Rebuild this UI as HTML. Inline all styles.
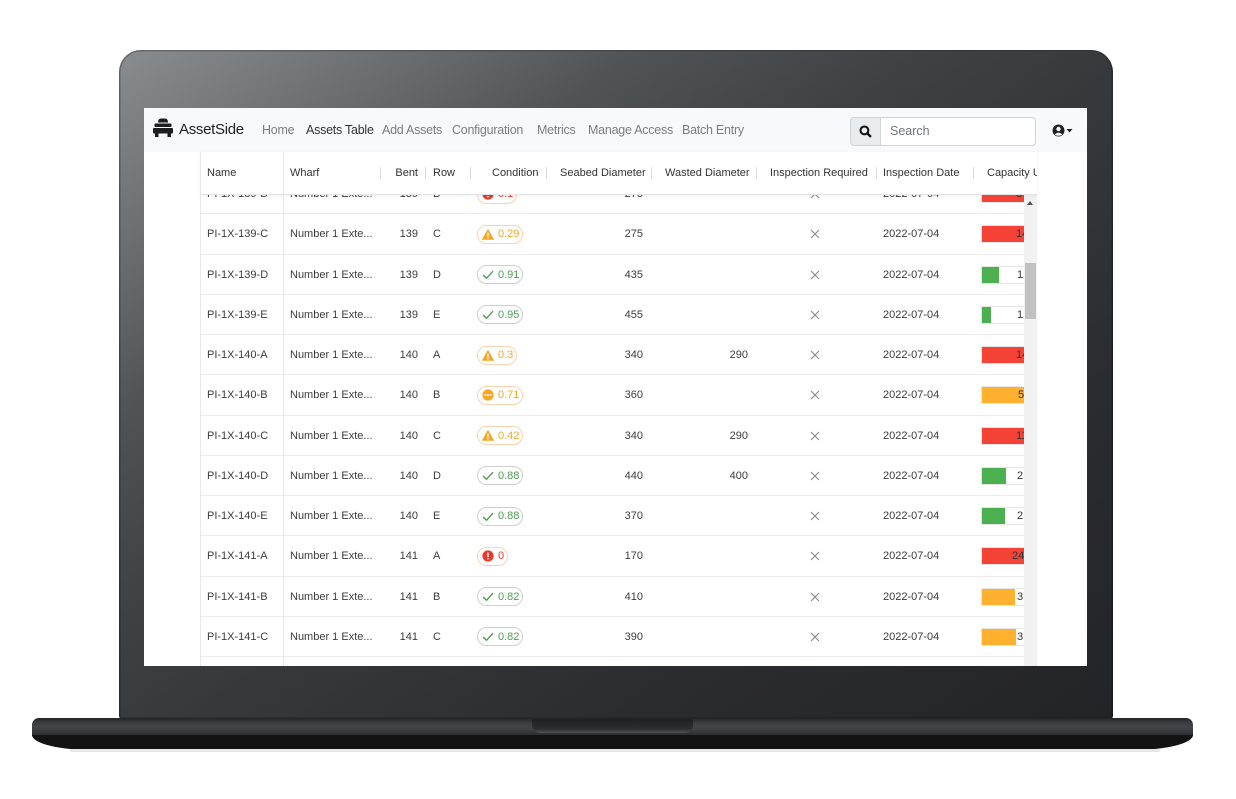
<!DOCTYPE html>
<html><head><meta charset="utf-8">
<style>
*{box-sizing:border-box;margin:0;padding:0}
html,body{width:1236px;height:799px;background:#fff;overflow:hidden;position:relative;font-family:"Liberation Sans",Arial,sans-serif}
.abs{position:absolute}
#lid{position:absolute;left:119px;top:50px;width:994px;height:669px;border-radius:22px 22px 3px 3px;
 background:linear-gradient(145deg,#8a8d8f 0%,#626567 19%,#505356 27%,#3f4143 41%,#36383a 53%,#2b2c2e 75%,#232426 100%);
 box-shadow:inset 0 0 0 1.5px rgba(0,0,0,.28),inset 0 2px 1px rgba(255,255,255,.06)}
#base1{position:absolute;left:32px;top:718px;width:1161px;height:18px;border-radius:7px 7px 0 0;
 background:linear-gradient(180deg,#222325 0%,#3b3c3e 25%,#444547 50%,#343537 80%,#2a2b2c 100%)}
#base2{position:absolute;left:32px;top:735px;width:1161px;height:15px;border-radius:0 0 60px 60px/0 0 15px 15px;background:#131313}
#shadow{position:absolute;left:70px;top:749px;width:1090px;height:3px;background:#e6e6e6;border-radius:2px}
#notch{position:absolute;left:532px;top:719px;width:161px;height:14px;border-radius:0 0 8px 8px;
 background:linear-gradient(180deg,#1f2022 0%,#2c2d2f 70%,#505254 100%)}
#screen{position:absolute;left:144px;top:108px;width:943px;height:558px;background:#fff;overflow:hidden}
#nav{position:absolute;left:0;top:0;width:943px;height:44px;background:#f8f9fa}
.ni{position:absolute;top:0;line-height:44px;font-size:12.5px;letter-spacing:-0.25px;color:#7d7d7d;white-space:nowrap}
#hdr{position:absolute;left:56px;top:44px;width:837px;height:43px;background:#fff;z-index:3;overflow:hidden;border-bottom:1px solid #e4e4e4;box-shadow:0 1px 3px rgba(0,0,0,.06)}
.hl{position:absolute;top:0;line-height:42px;font-size:11px;color:#333;white-space:nowrap}
.sep{position:absolute;top:15px;width:1px;height:12px;background:#d8d8d8}
#rows{position:absolute;left:56px;top:66px;width:824px;height:492px;overflow:hidden}
.r{position:absolute;left:0;width:824px;height:40.25px;border-bottom:1px solid #ececec}
.c{position:absolute;top:0;line-height:40px;font-size:11px;color:#3c3c3c;white-space:nowrap}
.rt{text-align:right}
.b{position:absolute;left:277px;top:10.5px;height:19px;border-radius:10px;border:1px solid #f8d3ae;display:flex;align-items:center;font-size:11px;color:#f5a623}
.b svg{margin-left:4px;margin-right:4px;flex:none}
.b.ok{border-color:#cfcfcf;color:#4e9d50}
.b.er{color:#e8392f}
.x{position:absolute;left:610px;top:15px}
.bar{position:absolute;left:781px;top:11px;width:70px;height:18px;border:1px solid #e6e6e6;background:#fff}
.f{position:absolute;left:0;top:0;height:16px}
.red{background:#f44336}.grn{background:#4caf50}.org{background:#ffb02e}
.bt{position:absolute;top:0;line-height:40px;font-size:11px;color:#333}
.vl{position:absolute;top:44px;width:1px;height:514px;background:#e8e8e8;z-index:4}
</style></head><body>
<div id="lid"></div>
<div id="base1"></div>
<div id="base2"></div>
<div id="shadow"></div>
<div id="notch"></div>

<div id="screen">
 <div id="nav">
  <svg class="abs" style="left:9px;top:10px" width="20" height="19" viewBox="0 0 20 19">
   <path d="M5 4.5 Q5 0.5 8 0.5 H12 Q15 0.5 15 4.5 Z" fill="#1e1e1e"/>
   <rect x="1.5" y="5.5" width="17" height="3.5" rx="1" fill="#1e1e1e"/>
   <rect x="0" y="10" width="20" height="5.5" rx="1" fill="#1e1e1e"/>
   <rect x="2" y="15" width="3.5" height="4" fill="#1e1e1e"/>
   <rect x="14.5" y="15" width="3.5" height="4" fill="#1e1e1e"/>
  </svg>
  <div class="ni" style="left:35px;font-size:15px;letter-spacing:-0.3px;color:#222">AssetSide</div>
  <div class="ni" style="left:118px">Home</div>
  <div class="ni" style="left:162px;color:#333">Assets Table</div>
  <div class="ni" style="left:238px">Add Assets</div>
  <div class="ni" style="left:308px">Configuration</div>
  <div class="ni" style="left:393px">Metrics</div>
  <div class="ni" style="left:444px">Manage Access</div>
  <div class="ni" style="left:538px">Batch Entry</div>
  <div class="abs" style="left:706px;top:9px;width:31px;height:29px;background:#e9ecef;border:1px solid #ced4da;border-radius:4px 0 0 4px">
   <svg class="abs" style="left:8px;top:7px" width="13" height="13" viewBox="0 0 12 12"><circle cx="5" cy="5" r="3.6" stroke="#111" stroke-width="1.9" fill="none"/><line x1="7.6" y1="7.6" x2="11" y2="11" stroke="#111" stroke-width="2.2"/></svg>
  </div>
  <div class="abs" style="left:737px;top:9px;width:155px;height:29px;background:#fff;border:1px solid #ced4da;border-left:none;border-radius:0 4px 4px 0;font-size:12.5px;color:#6c757d;line-height:27px;padding-left:9px">Search</div>
  <svg class="abs" style="left:908px;top:16px" width="22" height="13" viewBox="0 0 22 13">
   <circle cx="6.5" cy="6.5" r="6" fill="#222"/><circle cx="6.5" cy="5" r="2.2" fill="#f8f9fa"/><path d="M2.6 10.5 Q6.5 6.8 10.4 10.5 Q6.5 13 2.6 10.5Z" fill="#f8f9fa"/>
   <path d="M14.5 5 H20.5 L17.5 8.5 Z" fill="#222"/>
  </svg>
 </div>

 <div class="vl" style="left:56px"></div>
 <div class="vl" style="left:139px"></div>

 <div id="hdr">
  <div class="hl" style="left:7px">Name</div>
  <div class="hl" style="left:90px">Wharf</div>
  <div class="hl" style="left:190px;width:28px;text-align:right">Bent</div>
  <div class="hl" style="left:233px">Row</div>
  <div class="hl" style="left:292px">Condition</div>
  <div class="hl" style="left:360px">Seabed Diameter</div>
  <div class="hl" style="left:465px">Wasted Diameter</div>
  <div class="hl" style="left:570px">Inspection Required</div>
  <div class="hl" style="left:683px">Inspection Date</div>
  <div class="hl" style="left:787px">Capacity Utilisation</div>
  <div class="sep" style="left:180px"></div>
  <div class="sep" style="left:225px"></div>
  <div class="sep" style="left:270px"></div>
  <div class="sep" style="left:346px"></div>
  <div class="sep" style="left:451px"></div>
  <div class="sep" style="left:556px"></div>
  <div class="sep" style="left:676px"></div>
  <div class="sep" style="left:773px"></div>
 </div>

 <div id="rows">
  <div class="r" style="top:0px">
   <div class="c" style="left:7px">PI-1X-139-B</div><div class="c" style="left:90px">Number 1 Exte...</div>
   <div class="c rt" style="left:190px;width:28px">139</div><div class="c" style="left:233px">B</div>
   <div class="b er" style="width:40px"><svg width="12" height="12" viewBox="0 0 12 12"><circle cx="6" cy="6" r="5.6" fill="#e8392f"/><rect x="5.3" y="2.6" width="1.4" height="4.4" fill="#fff"/><rect x="5.3" y="8" width="1.4" height="1.4" fill="#fff"/></svg>0.1</div>
   <div class="c rt" style="left:400px;width:43px">275</div>
   <svg class="x" width="10" height="10" viewBox="0 0 10 10"><path d="M1 1L9 9M9 1L1 9" stroke="#888" stroke-width="1.1"/></svg>
   <div class="c" style="left:683px">2022-07-04</div>
   <div class="bar"><div class="f red" style="width:70px"></div></div><div class="bt" style="left:816px">8</div>
  </div>
  <div class="r" style="top:40.25px">
   <div class="c" style="left:7px">PI-1X-139-C</div><div class="c" style="left:90px">Number 1 Exte...</div>
   <div class="c rt" style="left:190px;width:28px">139</div><div class="c" style="left:233px">C</div>
   <div class="b" style="width:46px"><svg width="12" height="11" viewBox="0 0 12 11"><path d="M6 0.6L11.6 10.4H0.4Z" fill="#f5a623" stroke="#f5a623" stroke-width="0.8" stroke-linejoin="round"/><rect x="5.35" y="3.6" width="1.3" height="3.8" fill="#fff"/><rect x="5.35" y="8.1" width="1.3" height="1.3" fill="#fff"/></svg>0.29</div>
   <div class="c rt" style="left:400px;width:43px">275</div>
   <svg class="x" width="10" height="10" viewBox="0 0 10 10"><path d="M1 1L9 9M9 1L1 9" stroke="#888" stroke-width="1.1"/></svg>
   <div class="c" style="left:683px">2022-07-04</div>
   <div class="bar"><div class="f red" style="width:70px"></div></div><div class="bt" style="left:816px">14</div>
  </div>
  <div class="r" style="top:80.5px">
   <div class="c" style="left:7px">PI-1X-139-D</div><div class="c" style="left:90px">Number 1 Exte...</div>
   <div class="c rt" style="left:190px;width:28px">139</div><div class="c" style="left:233px">D</div>
   <div class="b ok" style="width:46px"><svg width="12" height="11" viewBox="0 0 12 11"><path d="M1 6L4.5 9.3L11 2.2" stroke="#4e9d50" stroke-width="1.4" fill="none"/></svg>0.91</div>
   <div class="c rt" style="left:400px;width:43px">435</div>
   <svg class="x" width="10" height="10" viewBox="0 0 10 10"><path d="M1 1L9 9M9 1L1 9" stroke="#888" stroke-width="1.1"/></svg>
   <div class="c" style="left:683px">2022-07-04</div>
   <div class="bar"><div class="f grn" style="width:17px"></div></div><div class="bt" style="left:817px">1</div>
  </div>
  <div class="r" style="top:120.75px">
   <div class="c" style="left:7px">PI-1X-139-E</div><div class="c" style="left:90px">Number 1 Exte...</div>
   <div class="c rt" style="left:190px;width:28px">139</div><div class="c" style="left:233px">E</div>
   <div class="b ok" style="width:46px"><svg width="12" height="11" viewBox="0 0 12 11"><path d="M1 6L4.5 9.3L11 2.2" stroke="#4e9d50" stroke-width="1.4" fill="none"/></svg>0.95</div>
   <div class="c rt" style="left:400px;width:43px">455</div>
   <svg class="x" width="10" height="10" viewBox="0 0 10 10"><path d="M1 1L9 9M9 1L1 9" stroke="#888" stroke-width="1.1"/></svg>
   <div class="c" style="left:683px">2022-07-04</div>
   <div class="bar"><div class="f grn" style="width:9px"></div></div><div class="bt" style="left:817px">1</div>
  </div>
  <div class="r" style="top:161px">
   <div class="c" style="left:7px">PI-1X-140-A</div><div class="c" style="left:90px">Number 1 Exte...</div>
   <div class="c rt" style="left:190px;width:28px">140</div><div class="c" style="left:233px">A</div>
   <div class="b" style="width:40px"><svg width="12" height="11" viewBox="0 0 12 11"><path d="M6 0.6L11.6 10.4H0.4Z" fill="#f5a623" stroke="#f5a623" stroke-width="0.8" stroke-linejoin="round"/><rect x="5.35" y="3.6" width="1.3" height="3.8" fill="#fff"/><rect x="5.35" y="8.1" width="1.3" height="1.3" fill="#fff"/></svg>0.3</div>
   <div class="c rt" style="left:400px;width:43px">340</div>
   <div class="c rt" style="left:505px;width:43px">290</div>
   <svg class="x" width="10" height="10" viewBox="0 0 10 10"><path d="M1 1L9 9M9 1L1 9" stroke="#888" stroke-width="1.1"/></svg>
   <div class="c" style="left:683px">2022-07-04</div>
   <div class="bar"><div class="f red" style="width:70px"></div></div><div class="bt" style="left:816px">14</div>
  </div>
  <div class="r" style="top:201.25px">
   <div class="c" style="left:7px">PI-1X-140-B</div><div class="c" style="left:90px">Number 1 Exte...</div>
   <div class="c rt" style="left:190px;width:28px">140</div><div class="c" style="left:233px">B</div>
   <div class="b" style="width:46px"><svg width="12" height="12" viewBox="0 0 12 12"><circle cx="6" cy="6" r="5.6" fill="#f5a623"/><circle cx="3.4" cy="6" r="1" fill="#fff"/><circle cx="6" cy="6" r="1" fill="#fff"/><circle cx="8.6" cy="6" r="1" fill="#fff"/></svg>0.71</div>
   <div class="c rt" style="left:400px;width:43px">360</div>
   <svg class="x" width="10" height="10" viewBox="0 0 10 10"><path d="M1 1L9 9M9 1L1 9" stroke="#888" stroke-width="1.1"/></svg>
   <div class="c" style="left:683px">2022-07-04</div>
   <div class="bar"><div class="f org" style="width:70px"></div></div><div class="bt" style="left:818px">5</div>
  </div>
  <div class="r" style="top:241.5px">
   <div class="c" style="left:7px">PI-1X-140-C</div><div class="c" style="left:90px">Number 1 Exte...</div>
   <div class="c rt" style="left:190px;width:28px">140</div><div class="c" style="left:233px">C</div>
   <div class="b" style="width:46px"><svg width="12" height="11" viewBox="0 0 12 11"><path d="M6 0.6L11.6 10.4H0.4Z" fill="#f5a623" stroke="#f5a623" stroke-width="0.8" stroke-linejoin="round"/><rect x="5.35" y="3.6" width="1.3" height="3.8" fill="#fff"/><rect x="5.35" y="8.1" width="1.3" height="1.3" fill="#fff"/></svg>0.42</div>
   <div class="c rt" style="left:400px;width:43px">340</div>
   <div class="c rt" style="left:505px;width:43px">290</div>
   <svg class="x" width="10" height="10" viewBox="0 0 10 10"><path d="M1 1L9 9M9 1L1 9" stroke="#888" stroke-width="1.1"/></svg>
   <div class="c" style="left:683px">2022-07-04</div>
   <div class="bar"><div class="f red" style="width:70px"></div></div><div class="bt" style="left:816px">11</div>
  </div>
  <div class="r" style="top:281.75px">
   <div class="c" style="left:7px">PI-1X-140-D</div><div class="c" style="left:90px">Number 1 Exte...</div>
   <div class="c rt" style="left:190px;width:28px">140</div><div class="c" style="left:233px">D</div>
   <div class="b ok" style="width:46px"><svg width="12" height="11" viewBox="0 0 12 11"><path d="M1 6L4.5 9.3L11 2.2" stroke="#4e9d50" stroke-width="1.4" fill="none"/></svg>0.88</div>
   <div class="c rt" style="left:400px;width:43px">440</div>
   <div class="c rt" style="left:505px;width:43px">400</div>
   <svg class="x" width="10" height="10" viewBox="0 0 10 10"><path d="M1 1L9 9M9 1L1 9" stroke="#888" stroke-width="1.1"/></svg>
   <div class="c" style="left:683px">2022-07-04</div>
   <div class="bar"><div class="f grn" style="width:24px"></div></div><div class="bt" style="left:817px">2</div>
  </div>
  <div class="r" style="top:322px">
   <div class="c" style="left:7px">PI-1X-140-E</div><div class="c" style="left:90px">Number 1 Exte...</div>
   <div class="c rt" style="left:190px;width:28px">140</div><div class="c" style="left:233px">E</div>
   <div class="b ok" style="width:46px"><svg width="12" height="11" viewBox="0 0 12 11"><path d="M1 6L4.5 9.3L11 2.2" stroke="#4e9d50" stroke-width="1.4" fill="none"/></svg>0.88</div>
   <div class="c rt" style="left:400px;width:43px">370</div>
   <svg class="x" width="10" height="10" viewBox="0 0 10 10"><path d="M1 1L9 9M9 1L1 9" stroke="#888" stroke-width="1.1"/></svg>
   <div class="c" style="left:683px">2022-07-04</div>
   <div class="bar"><div class="f grn" style="width:23px"></div></div><div class="bt" style="left:817px">2</div>
  </div>
  <div class="r" style="top:362.25px">
   <div class="c" style="left:7px">PI-1X-141-A</div><div class="c" style="left:90px">Number 1 Exte...</div>
   <div class="c rt" style="left:190px;width:28px">141</div><div class="c" style="left:233px">A</div>
   <div class="b er" style="width:31px"><svg width="12" height="12" viewBox="0 0 12 12"><circle cx="6" cy="6" r="5.6" fill="#e8392f"/><rect x="5.3" y="2.6" width="1.4" height="4.4" fill="#fff"/><rect x="5.3" y="8" width="1.4" height="1.4" fill="#fff"/></svg>0</div>
   <div class="c rt" style="left:400px;width:43px">170</div>
   <svg class="x" width="10" height="10" viewBox="0 0 10 10"><path d="M1 1L9 9M9 1L1 9" stroke="#888" stroke-width="1.1"/></svg>
   <div class="c" style="left:683px">2022-07-04</div>
   <div class="bar"><div class="f red" style="width:70px"></div></div><div class="bt" style="left:812px">24</div>
  </div>
  <div class="r" style="top:402.5px">
   <div class="c" style="left:7px">PI-1X-141-B</div><div class="c" style="left:90px">Number 1 Exte...</div>
   <div class="c rt" style="left:190px;width:28px">141</div><div class="c" style="left:233px">B</div>
   <div class="b ok" style="width:46px"><svg width="12" height="11" viewBox="0 0 12 11"><path d="M1 6L4.5 9.3L11 2.2" stroke="#4e9d50" stroke-width="1.4" fill="none"/></svg>0.82</div>
   <div class="c rt" style="left:400px;width:43px">410</div>
   <svg class="x" width="10" height="10" viewBox="0 0 10 10"><path d="M1 1L9 9M9 1L1 9" stroke="#888" stroke-width="1.1"/></svg>
   <div class="c" style="left:683px">2022-07-04</div>
   <div class="bar"><div class="f org" style="width:33px"></div></div><div class="bt" style="left:817px">3</div>
  </div>
  <div class="r" style="top:442.75px">
   <div class="c" style="left:7px">PI-1X-141-C</div><div class="c" style="left:90px">Number 1 Exte...</div>
   <div class="c rt" style="left:190px;width:28px">141</div><div class="c" style="left:233px">C</div>
   <div class="b ok" style="width:46px"><svg width="12" height="11" viewBox="0 0 12 11"><path d="M1 6L4.5 9.3L11 2.2" stroke="#4e9d50" stroke-width="1.4" fill="none"/></svg>0.82</div>
   <div class="c rt" style="left:400px;width:43px">390</div>
   <svg class="x" width="10" height="10" viewBox="0 0 10 10"><path d="M1 1L9 9M9 1L1 9" stroke="#888" stroke-width="1.1"/></svg>
   <div class="c" style="left:683px">2022-07-04</div>
   <div class="bar"><div class="f org" style="width:34px"></div></div><div class="bt" style="left:817px">3</div>
  </div>
  <div class="r" style="top:483px"></div>
 </div>

 <div class="abs" style="left:880px;top:87px;width:13px;height:471px;background:#f1f1f1;z-index:2"></div>
 <div class="abs" style="left:883px;top:93px;width:0;height:0;border-left:3.5px solid transparent;border-right:3.5px solid transparent;border-bottom:4px solid #505050;z-index:3"></div>
 <div class="abs" style="left:881px;top:155px;width:11px;height:56px;background:#c1c1c1;z-index:3"></div>
</div>
</body></html>
